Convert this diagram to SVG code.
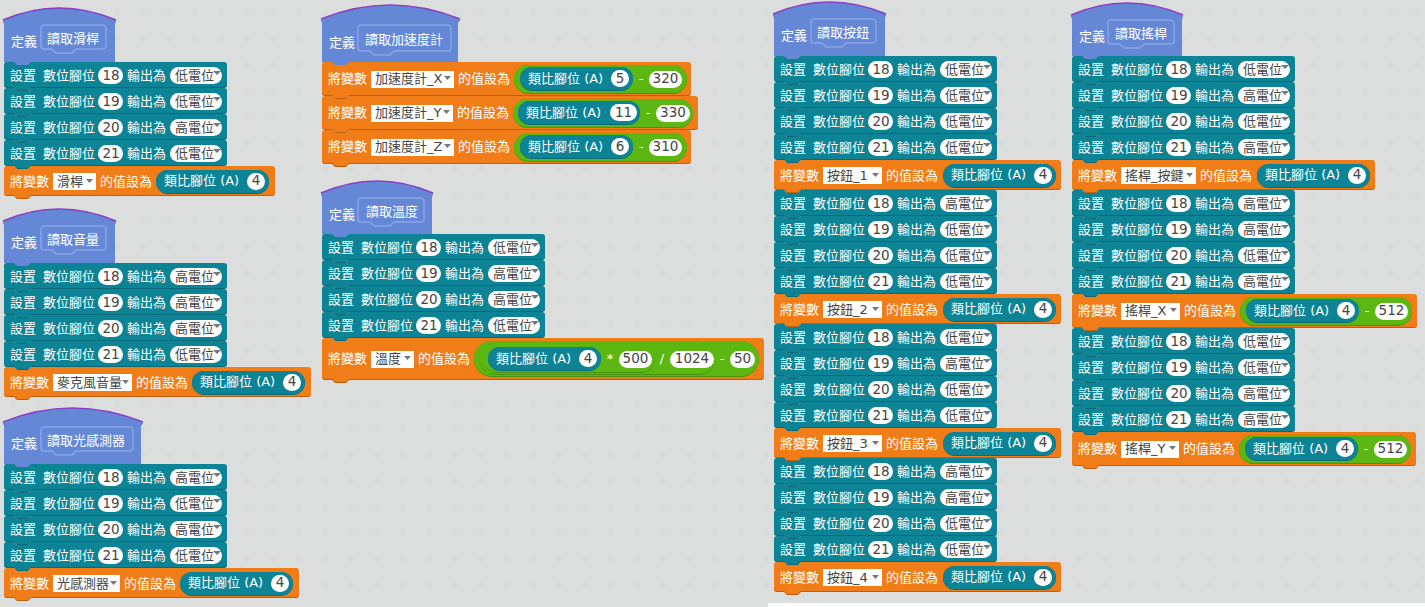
<svg xmlns="http://www.w3.org/2000/svg" width="1425" height="607" viewBox="0 0 1425 607">
<style>
text{font-family:"DejaVu Sans","Noto Sans CJK TC",sans-serif;font-size:13px;transform:translateY(-1px)}
.w{fill:#fff}
.k{fill:#444}
.n{fill:#444;text-anchor:middle;font-size:13.5px}
.op{fill:#fff;text-anchor:middle}
.t{fill:#0d8496}.td{fill:#0a6a78}
.o{fill:#f07d17}.od{fill:#bd5f0d}
.g{fill:#5cb712}.gd{fill:#47920c}
.h{fill:#6488d6}.hd{fill:#4f6fb8}
.a{fill:none;stroke:#8c3fc6;stroke-width:1.6}
.p{fill:none;stroke:#88a4e4;stroke-width:1.5}
.wf{fill:#fff}.tri{fill:#777}
</style>
<defs>
<pattern id="grid" width="26" height="26" patternUnits="userSpaceOnUse"><rect width="26" height="26" fill="#dcdedd"/><path d="M10,13H16M13,10V16" stroke="#d5d7d6" stroke-width="1"/></pattern>
<path id="sp" d="M0,3Q0,0 3,0H10L13,3H24L27,0H220Q223,0 223,3V22Q223,25 220,25H27L24,28H13L10,25H3Q0,25 0,22Z"/>
<g id="s"><use href="#sp" class="td" y="1"/><use href="#sp" class="t"/><rect class="wf" x="94" y="5" width="25" height="17" rx="8.5"/><rect class="wf" x="166" y="5" width="52" height="17" rx="8.5"/><path class="tri" d="M209,9H217L213,13Z"/></g>
<path id="o271" d="M0,3Q0,0 3,0H10L13,3H24L27,0H268Q271,0 271,3V26Q271,29 268,29H27L24,32H13L10,29H3Q0,29 0,26Z"/>
<path id="o307" d="M0,3Q0,0 3,0H10L13,3H24L27,0H304Q307,0 307,3V26Q307,29 304,29H27L24,32H13L10,29H3Q0,29 0,26Z"/>
<path id="o295" d="M0,3Q0,0 3,0H10L13,3H24L27,0H292Q295,0 295,3V26Q295,29 292,29H27L24,32H13L10,29H3Q0,29 0,26Z"/>
<path id="o287" d="M0,3Q0,0 3,0H10L13,3H24L27,0H284Q287,0 287,3V26Q287,29 284,29H27L24,32H13L10,29H3Q0,29 0,26Z"/>
<path id="o303" d="M0,3Q0,0 3,0H10L13,3H24L27,0H300Q303,0 303,3V26Q303,29 300,29H27L24,32H13L10,29H3Q0,29 0,26Z"/>
<path id="o369" d="M0,3Q0,0 3,0H10L13,3H24L27,0H366Q369,0 369,3V30Q369,33 366,33H27L24,36H13L10,33H3Q0,33 0,30Z"/>
<path id="o376" d="M0,3Q0,0 3,0H10L13,3H24L27,0H373Q376,0 376,3V30Q376,33 373,33H27L24,36H13L10,33H3Q0,33 0,30Z"/>
<path id="o345" d="M0,3Q0,0 3,0H10L13,3H24L27,0H342Q345,0 345,3V30Q345,33 342,33H27L24,36H13L10,33H3Q0,33 0,30Z"/>
<path id="o344" d="M0,3Q0,0 3,0H10L13,3H24L27,0H341Q344,0 344,3V30Q344,33 341,33H27L24,36H13L10,33H3Q0,33 0,30Z"/>
<path id="o442" d="M0,3Q0,0 3,0H10L13,3H24L27,0H439Q442,0 442,3V38Q442,41 439,41H27L24,44H13L10,41H3Q0,41 0,38Z"/>
<g id="r"><rect class="td" width="113" height="24" rx="12"/><rect class="t" width="113" height="23" rx="11.5"/><rect class="wf" x="91" y="3" width="18" height="17" rx="8.5"/></g>
<g id="r2"><rect class="td" width="122" height="24" rx="12"/><rect class="t" width="122" height="23" rx="11.5"/><rect class="wf" x="92" y="3" width="27" height="17" rx="8.5"/></g>
<path id="h111" d="M-1,12Q55,-12 112,12L111,15V51Q111,54 108,54H27L24,57H13L10,54H3Q0,54 0,51V15Z"/>
<path id="h110" d="M-1,12Q55,-12 111,12L110,15V50Q110,53 107,53H27L24,56H13L10,53H3Q0,53 0,50V15Z"/>
<path id="h137" d="M-1,14Q68,-14 139,14L137,17V53Q137,56 134,56H27L24,59H13L10,56H3Q0,56 0,53V17Z"/>
<path id="h136" d="M-1,14Q68,-14 138,14L136,17V54Q136,57 133,57H27L24,60H13L10,57H3Q0,57 0,54V17Z"/>
</defs>
<rect width="1425" height="607" fill="url(#grid)"/>
<rect x="768" y="603" width="657" height="4" fill="#fff"/>

<g id="slider">
<g id="slider-hat" transform="translate(4,8)"><use href="#h111" class="hd" y="1"/><use href="#h111" class="h"/><path class="a" d="M-1,12Q55,-12 112,12"/><path class="p" d="M40,17H98Q102,17 102,21V38Q102,41 98,41H72L68,45H52L48,41H40Q37,41 37,38V21Q37,17 40,17Z"/><text class="w" x="7" y="39">定義</text><text class="w" x="43" y="36">讀取滑桿</text></g>
<g id="slider-1" transform="translate(4,62)"><use href="#s"/><text class="w" x="6" y="19">設置<tspan x="39">數位腳位</tspan></text><text class="n" x="107" y="19">18</text><text class="w" x="123" y="19">輸出為</text><text class="k" x="171" y="19">低電位</text></g>
<g id="slider-2" transform="translate(4,88)"><use href="#s"/><text class="w" x="6" y="19">設置<tspan x="39">數位腳位</tspan></text><text class="n" x="107" y="19">19</text><text class="w" x="123" y="19">輸出為</text><text class="k" x="171" y="19">低電位</text></g>
<g id="slider-3" transform="translate(4,114)"><use href="#s"/><text class="w" x="6" y="19">設置<tspan x="39">數位腳位</tspan></text><text class="n" x="107" y="19">20</text><text class="w" x="123" y="19">輸出為</text><text class="k" x="171" y="19">高電位</text></g>
<g id="slider-4" transform="translate(4,140)"><use href="#s"/><text class="w" x="6" y="19">設置<tspan x="39">數位腳位</tspan></text><text class="n" x="107" y="19">21</text><text class="w" x="123" y="19">輸出為</text><text class="k" x="171" y="19">低電位</text></g>
<g id="slider-5" transform="translate(4,166)"><use href="#o271" class="od" y="1"/><use href="#o271" class="o"/><text class="w" x="6" y="21">將變數</text><rect class="wf" x="49" y="7" width="43" height="17"/><text class="k" x="53" y="21">滑桿</text><path class="tri" d="M82,13H89L85.500,17Z"/><text class="w" x="96" y="21">的值設為</text><g transform="translate(152,4)"><use href="#r"/><text class="w" x="8" y="16">類比腳位 (A)</text><text class="n" x="100" y="16">4</text></g></g>
</g>

<g id="volume">
<g id="volume-hat" transform="translate(4,209)"><use href="#h111" class="hd" y="1"/><use href="#h111" class="h"/><path class="a" d="M-1,12Q55,-12 112,12"/><path class="p" d="M40,17H98Q102,17 102,21V38Q102,41 98,41H72L68,45H52L48,41H40Q37,41 37,38V21Q37,17 40,17Z"/><text class="w" x="7" y="39">定義</text><text class="w" x="43" y="36">讀取音量</text></g>
<g id="volume-1" transform="translate(4,263)"><use href="#s"/><text class="w" x="6" y="19">設置<tspan x="39">數位腳位</tspan></text><text class="n" x="107" y="19">18</text><text class="w" x="123" y="19">輸出為</text><text class="k" x="171" y="19">高電位</text></g>
<g id="volume-2" transform="translate(4,289)"><use href="#s"/><text class="w" x="6" y="19">設置<tspan x="39">數位腳位</tspan></text><text class="n" x="107" y="19">19</text><text class="w" x="123" y="19">輸出為</text><text class="k" x="171" y="19">高電位</text></g>
<g id="volume-3" transform="translate(4,315)"><use href="#s"/><text class="w" x="6" y="19">設置<tspan x="39">數位腳位</tspan></text><text class="n" x="107" y="19">20</text><text class="w" x="123" y="19">輸出為</text><text class="k" x="171" y="19">高電位</text></g>
<g id="volume-4" transform="translate(4,341)"><use href="#s"/><text class="w" x="6" y="19">設置<tspan x="39">數位腳位</tspan></text><text class="n" x="107" y="19">21</text><text class="w" x="123" y="19">輸出為</text><text class="k" x="171" y="19">低電位</text></g>
<g id="volume-5" transform="translate(4,367)"><use href="#o307" class="od" y="1"/><use href="#o307" class="o"/><text class="w" x="6" y="21">將變數</text><rect class="wf" x="49" y="7" width="79" height="17"/><text class="k" x="53" y="21">麥克風音量</text><path class="tri" d="M118,13H125L121.500,17Z"/><text class="w" x="132" y="21">的值設為</text><g transform="translate(188,4)"><use href="#r"/><text class="w" x="8" y="16">類比腳位 (A)</text><text class="n" x="100" y="16">4</text></g></g>
</g>

<g id="light">
<g id="light-hat" transform="translate(4,408)"><use href="#h137" class="hd" y="1"/><use href="#h137" class="h"/><path class="a" d="M-1,14Q68,-14 139,14"/><path class="p" d="M40,19H125Q129,19 129,23V40Q129,43 125,43H72L68,47H52L48,43H40Q37,43 37,40V23Q37,19 40,19Z"/><text class="w" x="7" y="41">定義</text><text class="w" x="43" y="38">讀取光感測器</text></g>
<g id="light-1" transform="translate(4,464)"><use href="#s"/><text class="w" x="6" y="19">設置<tspan x="39">數位腳位</tspan></text><text class="n" x="107" y="19">18</text><text class="w" x="123" y="19">輸出為</text><text class="k" x="171" y="19">高電位</text></g>
<g id="light-2" transform="translate(4,490)"><use href="#s"/><text class="w" x="6" y="19">設置<tspan x="39">數位腳位</tspan></text><text class="n" x="107" y="19">19</text><text class="w" x="123" y="19">輸出為</text><text class="k" x="171" y="19">低電位</text></g>
<g id="light-3" transform="translate(4,516)"><use href="#s"/><text class="w" x="6" y="19">設置<tspan x="39">數位腳位</tspan></text><text class="n" x="107" y="19">20</text><text class="w" x="123" y="19">輸出為</text><text class="k" x="171" y="19">高電位</text></g>
<g id="light-4" transform="translate(4,542)"><use href="#s"/><text class="w" x="6" y="19">設置<tspan x="39">數位腳位</tspan></text><text class="n" x="107" y="19">21</text><text class="w" x="123" y="19">輸出為</text><text class="k" x="171" y="19">低電位</text></g>
<g id="light-5" transform="translate(4,568)"><use href="#o295" class="od" y="1"/><use href="#o295" class="o"/><text class="w" x="6" y="21">將變數</text><rect class="wf" x="49" y="7" width="67" height="17"/><text class="k" x="53" y="21">光感測器</text><path class="tri" d="M106,13H113L109.500,17Z"/><text class="w" x="120" y="21">的值設為</text><g transform="translate(176,4)"><use href="#r"/><text class="w" x="8" y="16">類比腳位 (A)</text><text class="n" x="100" y="16">4</text></g></g>
</g>

<g id="accel">
<g id="accel-hat" transform="translate(322,5)"><use href="#h136" class="hd" y="1"/><use href="#h136" class="h"/><path class="a" d="M-1,14Q68,-14 138,14"/><path class="p" d="M39,20H125Q129,20 129,24V43Q129,46 125,46H72L68,50H52L48,46H39Q36,46 36,43V24Q36,20 39,20Z"/><text class="w" x="7" y="43">定義</text><text class="w" x="43" y="40">讀取加速度計</text></g>
<g id="accel-1" transform="translate(322,62)"><use href="#o369" class="od" y="1"/><use href="#o369" class="o"/><text class="w" x="6" y="22">將變數</text><rect class="wf" x="49" y="9" width="83" height="17"/><text class="k" x="53" y="22">加速度計_X</text><path class="tri" d="M122,14H129L125.500,18Z"/><text class="w" x="136" y="22">的值設為</text><rect class="gd" x="192" y="3" width="173" height="29" rx="14.5"/><rect class="g" x="192" y="3" width="173" height="28" rx="14"/><g transform="translate(198,5)"><use href="#r"/><text class="w" x="8" y="17">類比腳位 (A)</text><text class="n" x="100" y="17">5</text></g><text class="op" x="319" y="22">-</text><rect class="wf" x="327" y="9" width="33" height="17" rx="8.5"/><text class="n" x="343.500" y="22">320</text></g>
<g id="accel-2" transform="translate(322,96)"><use href="#o376" class="od" y="1"/><use href="#o376" class="o"/><text class="w" x="6" y="22">將變數</text><rect class="wf" x="49" y="9" width="82" height="17"/><text class="k" x="53" y="22">加速度計_Y</text><path class="tri" d="M121,14H128L124.500,18Z"/><text class="w" x="135" y="22">的值設為</text><rect class="gd" x="191" y="3" width="180" height="29" rx="14.5"/><rect class="g" x="191" y="3" width="180" height="28" rx="14"/><g transform="translate(196,5)"><use href="#r2"/><text class="w" x="8" y="17">類比腳位 (A)</text><text class="n" x="105.500" y="17">11</text></g><text class="op" x="326" y="22">-</text><rect class="wf" x="334" y="9" width="34" height="17" rx="8.5"/><text class="n" x="351" y="22">330</text></g>
<g id="accel-3" transform="translate(322,130)"><use href="#o369" class="od" y="1"/><use href="#o369" class="o"/><text class="w" x="6" y="22">將變數</text><rect class="wf" x="49" y="9" width="83" height="17"/><text class="k" x="53" y="22">加速度計_Z</text><path class="tri" d="M122,14H129L125.500,18Z"/><text class="w" x="136" y="22">的值設為</text><rect class="gd" x="192" y="3" width="173" height="29" rx="14.5"/><rect class="g" x="192" y="3" width="173" height="28" rx="14"/><g transform="translate(198,5)"><use href="#r"/><text class="w" x="8" y="17">類比腳位 (A)</text><text class="n" x="100" y="17">6</text></g><text class="op" x="319" y="22">-</text><rect class="wf" x="327" y="9" width="33" height="17" rx="8.5"/><text class="n" x="343.500" y="22">310</text></g>
</g>

<g id="temp">
<g id="temp-hat" transform="translate(322,181)"><use href="#h110" class="hd" y="1"/><use href="#h110" class="h"/><path class="a" d="M-1,12Q55,-12 111,12"/><path class="p" d="M39,17H98Q102,17 102,21V38Q102,41 98,41H72L68,45H52L48,41H39Q36,41 36,38V21Q36,17 39,17Z"/><text class="w" x="7" y="39">定義</text><text class="w" x="44" y="36">讀取溫度</text></g>
<g id="temp-1" transform="translate(322,234)"><use href="#s"/><text class="w" x="6" y="19">設置<tspan x="39">數位腳位</tspan></text><text class="n" x="107" y="19">18</text><text class="w" x="123" y="19">輸出為</text><text class="k" x="171" y="19">低電位</text></g>
<g id="temp-2" transform="translate(322,260)"><use href="#s"/><text class="w" x="6" y="19">設置<tspan x="39">數位腳位</tspan></text><text class="n" x="107" y="19">19</text><text class="w" x="123" y="19">輸出為</text><text class="k" x="171" y="19">高電位</text></g>
<g id="temp-3" transform="translate(322,286)"><use href="#s"/><text class="w" x="6" y="19">設置<tspan x="39">數位腳位</tspan></text><text class="n" x="107" y="19">20</text><text class="w" x="123" y="19">輸出為</text><text class="k" x="171" y="19">高電位</text></g>
<g id="temp-4" transform="translate(322,312)"><use href="#s"/><text class="w" x="6" y="19">設置<tspan x="39">數位腳位</tspan></text><text class="n" x="107" y="19">21</text><text class="w" x="123" y="19">輸出為</text><text class="k" x="171" y="19">低電位</text></g>
<g id="temp-5" transform="translate(322,338)"><use href="#o442" class="od" y="1"/><use href="#o442" class="o"/><text class="w" x="6" y="26">將變數</text><rect class="wf" x="49" y="13" width="43" height="17"/><text class="k" x="53" y="26">溫度</text><path class="tri" d="M82,18H89L85.500,22Z"/><text class="w" x="96" y="26">的值設為</text><rect class="gd" x="152" y="3" width="285" height="36" rx="18"/><rect class="g" x="152" y="3" width="285" height="35" rx="17.500"/><rect class="gd" x="157" y="5" width="236" height="32" rx="16"/><rect class="g" x="157" y="5" width="236" height="31" rx="15.500"/><rect class="gd" x="161" y="7" width="172" height="28" rx="14"/><rect class="g" x="161" y="7" width="172" height="27" rx="13.500"/><g transform="translate(166,9)"><use href="#r"/><text class="w" x="8" y="17">類比腳位 (A)</text><text class="n" x="100" y="17">4</text></g><text class="op" x="288" y="26">*</text><rect class="wf" x="297" y="13" width="33" height="17" rx="8.5"/><text class="n" x="313.500" y="26">500</text><text class="op" x="340" y="26">/</text><rect class="wf" x="348" y="13" width="44" height="17" rx="8.5"/><text class="n" x="370" y="26">1024</text><text class="op" x="400" y="26">-</text><rect class="wf" x="408" y="13" width="25" height="17" rx="8.5"/><text class="n" x="420.500" y="26">50</text></g>
</g>

<g id="button">
<g id="button-hat" transform="translate(774,3)"><use href="#h111" class="hd"/><use href="#h111" class="h" y="-1"/><path class="a" d="M-1,11Q55,-13 112,11"/><path class="p" d="M40,16H98Q102,16 102,20V37Q102,40 98,40H72L68,44H52L48,40H40Q37,40 37,37V20Q37,16 40,16Z"/><text class="w" x="7" y="38">定義</text><text class="w" x="43" y="35">讀取按鈕</text></g>
<g id="button-1" transform="translate(774,56)"><use href="#s"/><text class="w" x="6" y="19">設置<tspan x="39">數位腳位</tspan></text><text class="n" x="107" y="19">18</text><text class="w" x="123" y="19">輸出為</text><text class="k" x="171" y="19">低電位</text></g>
<g id="button-2" transform="translate(774,82)"><use href="#s"/><text class="w" x="6" y="19">設置<tspan x="39">數位腳位</tspan></text><text class="n" x="107" y="19">19</text><text class="w" x="123" y="19">輸出為</text><text class="k" x="171" y="19">低電位</text></g>
<g id="button-3" transform="translate(774,108)"><use href="#s"/><text class="w" x="6" y="19">設置<tspan x="39">數位腳位</tspan></text><text class="n" x="107" y="19">20</text><text class="w" x="123" y="19">輸出為</text><text class="k" x="171" y="19">低電位</text></g>
<g id="button-4" transform="translate(774,134)"><use href="#s"/><text class="w" x="6" y="19">設置<tspan x="39">數位腳位</tspan></text><text class="n" x="107" y="19">21</text><text class="w" x="123" y="19">輸出為</text><text class="k" x="171" y="19">低電位</text></g>
<g id="button-5" transform="translate(774,160)"><use href="#o287" class="od" y="1"/><use href="#o287" class="o"/><text class="w" x="6" y="21">將變數</text><rect class="wf" x="49" y="7" width="59" height="17"/><text class="k" x="53" y="21">按鈕_1</text><path class="tri" d="M98,13H105L101.500,17Z"/><text class="w" x="112" y="21">的值設為</text><g transform="translate(169,4)"><use href="#r"/><text class="w" x="8" y="16">類比腳位 (A)</text><text class="n" x="100" y="16">4</text></g></g>
<g id="button-6" transform="translate(774,190)"><use href="#s"/><text class="w" x="6" y="19">設置<tspan x="39">數位腳位</tspan></text><text class="n" x="107" y="19">18</text><text class="w" x="123" y="19">輸出為</text><text class="k" x="171" y="19">高電位</text></g>
<g id="button-7" transform="translate(774,216)"><use href="#s"/><text class="w" x="6" y="19">設置<tspan x="39">數位腳位</tspan></text><text class="n" x="107" y="19">19</text><text class="w" x="123" y="19">輸出為</text><text class="k" x="171" y="19">低電位</text></g>
<g id="button-8" transform="translate(774,242)"><use href="#s"/><text class="w" x="6" y="19">設置<tspan x="39">數位腳位</tspan></text><text class="n" x="107" y="19">20</text><text class="w" x="123" y="19">輸出為</text><text class="k" x="171" y="19">低電位</text></g>
<g id="button-9" transform="translate(774,268)"><use href="#s"/><text class="w" x="6" y="19">設置<tspan x="39">數位腳位</tspan></text><text class="n" x="107" y="19">21</text><text class="w" x="123" y="19">輸出為</text><text class="k" x="171" y="19">低電位</text></g>
<g id="button-10" transform="translate(774,294)"><use href="#o287" class="od" y="1"/><use href="#o287" class="o"/><text class="w" x="6" y="21">將變數</text><rect class="wf" x="49" y="7" width="59" height="17"/><text class="k" x="53" y="21">按鈕_2</text><path class="tri" d="M98,13H105L101.500,17Z"/><text class="w" x="112" y="21">的值設為</text><g transform="translate(169,4)"><use href="#r"/><text class="w" x="8" y="16">類比腳位 (A)</text><text class="n" x="100" y="16">4</text></g></g>
<g id="button-11" transform="translate(774,324)"><use href="#s"/><text class="w" x="6" y="19">設置<tspan x="39">數位腳位</tspan></text><text class="n" x="107" y="19">18</text><text class="w" x="123" y="19">輸出為</text><text class="k" x="171" y="19">低電位</text></g>
<g id="button-12" transform="translate(774,350)"><use href="#s"/><text class="w" x="6" y="19">設置<tspan x="39">數位腳位</tspan></text><text class="n" x="107" y="19">19</text><text class="w" x="123" y="19">輸出為</text><text class="k" x="171" y="19">高電位</text></g>
<g id="button-13" transform="translate(774,376)"><use href="#s"/><text class="w" x="6" y="19">設置<tspan x="39">數位腳位</tspan></text><text class="n" x="107" y="19">20</text><text class="w" x="123" y="19">輸出為</text><text class="k" x="171" y="19">低電位</text></g>
<g id="button-14" transform="translate(774,402)"><use href="#s"/><text class="w" x="6" y="19">設置<tspan x="39">數位腳位</tspan></text><text class="n" x="107" y="19">21</text><text class="w" x="123" y="19">輸出為</text><text class="k" x="171" y="19">低電位</text></g>
<g id="button-15" transform="translate(774,428)"><use href="#o287" class="od" y="1"/><use href="#o287" class="o"/><text class="w" x="6" y="21">將變數</text><rect class="wf" x="49" y="7" width="59" height="17"/><text class="k" x="53" y="21">按鈕_3</text><path class="tri" d="M98,13H105L101.500,17Z"/><text class="w" x="112" y="21">的值設為</text><g transform="translate(169,4)"><use href="#r"/><text class="w" x="8" y="16">類比腳位 (A)</text><text class="n" x="100" y="16">4</text></g></g>
<g id="button-16" transform="translate(774,458)"><use href="#s"/><text class="w" x="6" y="19">設置<tspan x="39">數位腳位</tspan></text><text class="n" x="107" y="19">18</text><text class="w" x="123" y="19">輸出為</text><text class="k" x="171" y="19">高電位</text></g>
<g id="button-17" transform="translate(774,484)"><use href="#s"/><text class="w" x="6" y="19">設置<tspan x="39">數位腳位</tspan></text><text class="n" x="107" y="19">19</text><text class="w" x="123" y="19">輸出為</text><text class="k" x="171" y="19">高電位</text></g>
<g id="button-18" transform="translate(774,510)"><use href="#s"/><text class="w" x="6" y="19">設置<tspan x="39">數位腳位</tspan></text><text class="n" x="107" y="19">20</text><text class="w" x="123" y="19">輸出為</text><text class="k" x="171" y="19">低電位</text></g>
<g id="button-19" transform="translate(774,536)"><use href="#s"/><text class="w" x="6" y="19">設置<tspan x="39">數位腳位</tspan></text><text class="n" x="107" y="19">21</text><text class="w" x="123" y="19">輸出為</text><text class="k" x="171" y="19">低電位</text></g>
<g id="button-20" transform="translate(774,562)"><use href="#o287" class="od" y="1"/><use href="#o287" class="o"/><text class="w" x="6" y="21">將變數</text><rect class="wf" x="49" y="7" width="59" height="17"/><text class="k" x="53" y="21">按鈕_4</text><path class="tri" d="M98,13H105L101.500,17Z"/><text class="w" x="112" y="21">的值設為</text><g transform="translate(169,4)"><use href="#r"/><text class="w" x="8" y="16">類比腳位 (A)</text><text class="n" x="100" y="16">4</text></g></g>
</g>

<g id="joystick">
<g id="joystick-hat" transform="translate(1072,3)"><use href="#h110" class="hd" y="1"/><use href="#h110" class="h"/><path class="a" d="M-1,12Q55,-12 111,12"/><path class="p" d="M39,17H98Q102,17 102,21V38Q102,41 98,41H72L68,45H52L48,41H39Q36,41 36,38V21Q36,17 39,17Z"/><text class="w" x="7" y="39">定義</text><text class="w" x="43" y="36">讀取搖桿</text></g>
<g id="joystick-1" transform="translate(1072,56)"><use href="#s"/><text class="w" x="6" y="19">設置<tspan x="39">數位腳位</tspan></text><text class="n" x="107" y="19">18</text><text class="w" x="123" y="19">輸出為</text><text class="k" x="171" y="19">低電位</text></g>
<g id="joystick-2" transform="translate(1072,82)"><use href="#s"/><text class="w" x="6" y="19">設置<tspan x="39">數位腳位</tspan></text><text class="n" x="107" y="19">19</text><text class="w" x="123" y="19">輸出為</text><text class="k" x="171" y="19">高電位</text></g>
<g id="joystick-3" transform="translate(1072,108)"><use href="#s"/><text class="w" x="6" y="19">設置<tspan x="39">數位腳位</tspan></text><text class="n" x="107" y="19">20</text><text class="w" x="123" y="19">輸出為</text><text class="k" x="171" y="19">低電位</text></g>
<g id="joystick-4" transform="translate(1072,134)"><use href="#s"/><text class="w" x="6" y="19">設置<tspan x="39">數位腳位</tspan></text><text class="n" x="107" y="19">21</text><text class="w" x="123" y="19">輸出為</text><text class="k" x="171" y="19">高電位</text></g>
<g id="joystick-5" transform="translate(1072,160)"><use href="#o303" class="od" y="1"/><use href="#o303" class="o"/><text class="w" x="6" y="21">將變數</text><rect class="wf" x="49" y="7" width="75" height="17"/><text class="k" x="53" y="21">搖桿_按鍵</text><path class="tri" d="M114,13H121L117.500,17Z"/><text class="w" x="128" y="21">的值設為</text><g transform="translate(185,4)"><use href="#r"/><text class="w" x="8" y="16">類比腳位 (A)</text><text class="n" x="100" y="16">4</text></g></g>
<g id="joystick-6" transform="translate(1072,190)"><use href="#s"/><text class="w" x="6" y="19">設置<tspan x="39">數位腳位</tspan></text><text class="n" x="107" y="19">18</text><text class="w" x="123" y="19">輸出為</text><text class="k" x="171" y="19">高電位</text></g>
<g id="joystick-7" transform="translate(1072,216)"><use href="#s"/><text class="w" x="6" y="19">設置<tspan x="39">數位腳位</tspan></text><text class="n" x="107" y="19">19</text><text class="w" x="123" y="19">輸出為</text><text class="k" x="171" y="19">高電位</text></g>
<g id="joystick-8" transform="translate(1072,242)"><use href="#s"/><text class="w" x="6" y="19">設置<tspan x="39">數位腳位</tspan></text><text class="n" x="107" y="19">20</text><text class="w" x="123" y="19">輸出為</text><text class="k" x="171" y="19">低電位</text></g>
<g id="joystick-9" transform="translate(1072,268)"><use href="#s"/><text class="w" x="6" y="19">設置<tspan x="39">數位腳位</tspan></text><text class="n" x="107" y="19">21</text><text class="w" x="123" y="19">輸出為</text><text class="k" x="171" y="19">高電位</text></g>
<g id="joystick-10" transform="translate(1072,294)"><use href="#o345" class="od" y="1"/><use href="#o345" class="o"/><text class="w" x="6" y="22">將變數</text><rect class="wf" x="49" y="9" width="59" height="17"/><text class="k" x="53" y="22">搖桿_X</text><path class="tri" d="M98,14H105L101.500,18Z"/><text class="w" x="112" y="22">的值設為</text><rect class="gd" x="168" y="3" width="172" height="29" rx="14.5"/><rect class="g" x="168" y="3" width="172" height="28" rx="14"/><g transform="translate(174,5)"><use href="#r"/><text class="w" x="8" y="17">類比腳位 (A)</text><text class="n" x="100" y="17">4</text></g><text class="op" x="295" y="22">-</text><rect class="wf" x="303" y="9" width="33" height="17" rx="8.5"/><text class="n" x="319.500" y="22">512</text></g>
<g id="joystick-11" transform="translate(1072,328)"><use href="#s"/><text class="w" x="6" y="19">設置<tspan x="39">數位腳位</tspan></text><text class="n" x="107" y="19">18</text><text class="w" x="123" y="19">輸出為</text><text class="k" x="171" y="19">低電位</text></g>
<g id="joystick-12" transform="translate(1072,354)"><use href="#s"/><text class="w" x="6" y="19">設置<tspan x="39">數位腳位</tspan></text><text class="n" x="107" y="19">19</text><text class="w" x="123" y="19">輸出為</text><text class="k" x="171" y="19">低電位</text></g>
<g id="joystick-13" transform="translate(1072,380)"><use href="#s"/><text class="w" x="6" y="19">設置<tspan x="39">數位腳位</tspan></text><text class="n" x="107" y="19">20</text><text class="w" x="123" y="19">輸出為</text><text class="k" x="171" y="19">高電位</text></g>
<g id="joystick-14" transform="translate(1072,406)"><use href="#s"/><text class="w" x="6" y="19">設置<tspan x="39">數位腳位</tspan></text><text class="n" x="107" y="19">21</text><text class="w" x="123" y="19">輸出為</text><text class="k" x="171" y="19">高電位</text></g>
<g id="joystick-15" transform="translate(1072,432)"><use href="#o344" class="od" y="1"/><use href="#o344" class="o"/><text class="w" x="6" y="22">將變數</text><rect class="wf" x="49" y="9" width="58" height="17"/><text class="k" x="53" y="22">搖桿_Y</text><path class="tri" d="M97,14H104L100.500,18Z"/><text class="w" x="111" y="22">的值設為</text><rect class="gd" x="167" y="3" width="172" height="29" rx="14.5"/><rect class="g" x="167" y="3" width="172" height="28" rx="14"/><g transform="translate(173,5)"><use href="#r"/><text class="w" x="8" y="17">類比腳位 (A)</text><text class="n" x="100" y="17">4</text></g><text class="op" x="294" y="22">-</text><rect class="wf" x="302" y="9" width="33" height="17" rx="8.5"/><text class="n" x="318.500" y="22">512</text></g>
</g>
</svg>
